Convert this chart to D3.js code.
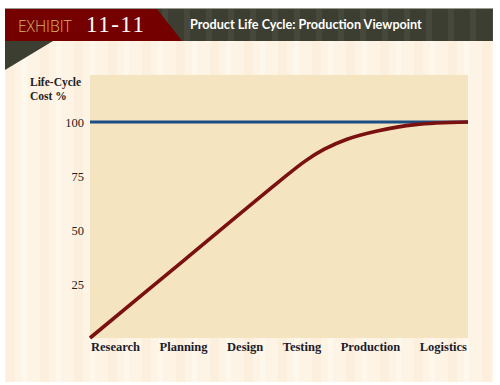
<!DOCTYPE html>
<html><head><meta charset="utf-8">
<script src="https://cdn.jsdelivr.net/npm/d3@7"></script>
<style>html,body{margin:0;padding:0;background:#fff;}svg{display:block;}</style>
</head><body>
<svg id="c" width="500" height="385"></svg>
<script>
const categories = ["Research","Planning","Design","Testing","Production","Logistics"];
const yTicks = [25, 50, 75, 100];
// life-cycle position (% of span) vs cumulative committed cost %
const costX = [0, 25, 50, 57, 62, 68, 76, 86, 100];
const costY = [0, 36.2, 72.4, 82, 87.4, 92, 95.8, 98.8, 100];
const budgetX = [0, 100];
const budgetY = [100, 100];

const svg = d3.select("#c");

const defs = svg.append("defs");
const pat = defs.append("pattern").attr("id","stripes").attr("patternUnits","userSpaceOnUse")
  .attr("width",34).attr("height",10);
pat.append("rect").attr("width",34).attr("height",10).attr("fill","#fdf4e6");
pat.append("rect").attr("x",6).attr("width",9).attr("height",10).attr("fill","#fcefdd");
pat.append("rect").attr("x",22).attr("width",5).attr("height",10).attr("fill","#fef7ec");
const pat2 = defs.append("pattern").attr("id","dstripes").attr("patternUnits","userSpaceOnUse")
  .attr("width",22).attr("height",10);
pat2.append("rect").attr("width",22).attr("height",10).attr("fill","#3b3e31");
pat2.append("rect").attr("x",8).attr("width",6).attr("height",10).attr("fill","#45483a");

svg.append("rect").attr("x",5).attr("y",8).attr("width",488).attr("height",374).attr("fill","url(#stripes)");
svg.append("line").attr("x1",5).attr("x2",493).attr("y1",8.5).attr("y2",8.5).attr("stroke","#9a9a92").attr("stroke-width",1);
svg.append("rect").attr("x",5).attr("y",9).attr("width",488).attr("height",32).attr("fill","url(#dstripes)");
svg.append("polygon").attr("points","5,9 157,9 182,41 5,41").attr("fill","#750000");
svg.append("polygon").attr("points","5,41 53,41 5,70").attr("fill","#3b3e31");

svg.append("text").attr("x",18).attr("y",32).attr("fill","#d9b764")
  .attr("font-family","'Open Sans', sans-serif").attr("font-size",15.5).attr("font-weight",300)
  .text("EXHIBIT");
svg.append("text").attr("x",86).attr("y",32).attr("fill","#ffffff")
  .attr("font-family","'Liberation Serif', serif").attr("font-size",23).attr("letter-spacing",1.5)
  .text("11-11");
const title = svg.append("text").attr("x",190).attr("y",29).attr("fill","#ffffff")
  .attr("font-family","Lato, sans-serif").attr("font-weight",700).attr("font-size",12.5)
  .text("Product Life Cycle: Production Viewpoint");
const tl = title.node().getComputedTextLength();
if (tl > 0) title.attr("font-size", 12.5 * 232 / tl);

const x = d3.scaleLinear().domain([0,100]).range([90,468]);
const y = d3.scaleLinear().domain([0,100]).range([338,122]);

svg.append("rect").attr("x",x(0)).attr("y",y(121.8)).attr("width",x(100)-x(0)).attr("height",y(0)-y(121.8))
  .attr("fill","#f4e4c0");

const yAxis = d3.axisLeft(y).tickValues(yTicks).tickSize(0).tickPadding(6);
const ga = svg.append("g").attr("transform",`translate(${x(0)},0)`).call(yAxis);
ga.select(".domain").remove();
ga.selectAll("text").attr("font-family","'Liberation Serif', serif").attr("font-size",12.5).attr("fill","#222");

svg.append("text").attr("x",30).attr("y",86).attr("font-family","'Liberation Serif', serif")
  .attr("font-size",11.5).attr("font-weight",700).attr("fill","#222").text("Life-Cycle");
svg.append("text").attr("x",30).attr("y",100).attr("font-family","'Liberation Serif', serif")
  .attr("font-size",11.5).attr("font-weight",700).attr("fill","#222").text("Cost %");

// x labels: laid out with equal gaps across the plot width
const gx = svg.append("g");
const labs = gx.selectAll("text").data(categories).join("text")
  .attr("y", y(0) + 13)
  .attr("font-family","'Liberation Serif', serif").attr("font-size",12.5)
  .attr("font-weight",700).attr("fill","#1c1c2c").text(d=>d);
const widths = labs.nodes().map(n=>n.getComputedTextLength());
const left = x(0) + 1, right = x(100) - 1;
const gap = (right - left - d3.sum(widths)) / (categories.length - 1);
let cx = left;
labs.each(function(d,i){ d3.select(this).attr("x", cx); cx += widths[i] + gap; });

const line = d3.line().x(d=>x(d[0])).y(d=>y(d[1]));
svg.append("path").datum(budgetX.map((v,i)=>[v,budgetY[i]])).attr("d",line)
  .attr("fill","none").attr("stroke","#1b4d84").attr("stroke-width",3.2);
svg.append("path").datum(costX.map((v,i)=>[v,costY[i]])).attr("d",line.curve(d3.curveCatmullRom.alpha(0.5)))
  .attr("fill","none").attr("stroke","#7b1010").attr("stroke-width",3.6);
</script>
</body></html>
